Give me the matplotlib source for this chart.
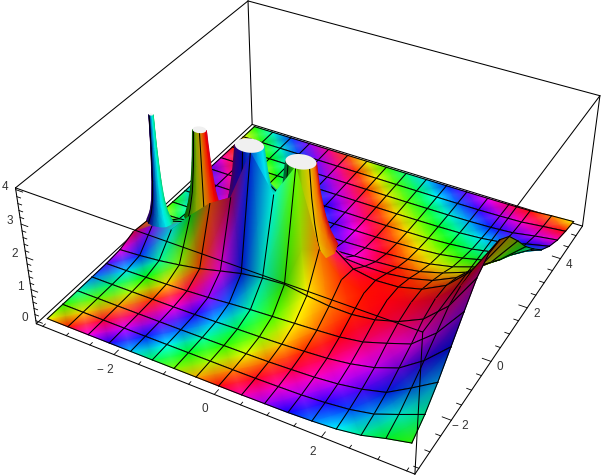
import numpy as np
import matplotlib
matplotlib.use("Agg")
import matplotlib.pyplot as plt
from matplotlib.colors import hsv_to_rgb
from mpl_toolkits.mplot3d import proj3d

# values
x_nodes = [-3.5, -3.06, -2.63, -2.19, -1.75, -1.31, -0.875, -0.44, 0, 0.44, 0.875, 1.31, 1.75, 2.19, 2.63, 3.06, 3.5]
y_nodes = [-3.5, -2.95, -2.41, -1.86, -1.31, -0.77, -0.22, 0.33, 0.875, 1.42, 1.97, 2.52, 3.06, 3.61, 4.16, 4.7, 5.25]

heights = [
    [0, 0, 0, .001, .001, .002, .004, .005, .007, .01, .02, .03, .06, .11, .22, .42, .59],
    [0, 0, .001, .002, .003, .006, .01, .014, .016, .023, .04, .06, .11, .19, .34, .62, .92],
    [0, .002, .003, .005, .008, .012, .02, .03, .04, .055, .085, .12, .19, .31, .5, .92, 1.38],
    [.004, .006, .011, .017, .024, .035, .055, .08, .10, .13, .17, .22, .32, .48, .75, 1.25, 1.94],
    [.012, .02, .037, .06, .09, .13, .19, .24, .28, .32, .36, .41, .52, .75, 1.0, 1.6, 2.5],
    [.05, .095, .16, .26, .38, .55, .71, .81, .86, .75, .67, .66, .75, .96, 1.3, 1.95, 3.03],
    [.22, .63, .74, 1.43, 2.04, 2.44, 4.0, 2.96, 4.0, 1.75, 1.05, .87, .9, 1.07, 1.45, 2.08, 3.3],
    [.17, .40, .60, .96, 1.53, 1.88, 2.8, 2.36, 2.78, 1.45, .95, .83, .87, 1.05, 1.42, 2.1, 3.27],
    [.04, .07, .13, .22, .33, .46, .58, .65, .68, .64, .60, .61, .70, .88, 1.22, 1.85, 2.95],
    [.01, .017, .03, .045, .07, .10, .15, .19, .23, .27, .32, .37, .48, .68, .95, 1.5, 2.4],
    [.003, .005, .009, .014, .02, .03, .045, .065, .08, .11, .15, .2, .29, .44, .68, 1.15, 1.8],
    [0, .001, .002, .004, .006, .01, .017, .027, .033, .046, .075, .11, .17, .29, .46, .85, 1.3],
    [0, 0, .001, .002, .003, .005, .008, .012, .014, .02, .035, .05, .095, .165, .3, .56, .85],
    [0, 0, 0, 0, .001, .002, .003, .005, .006, .009, .017, .028, .05, .1, .19, .38, .54],
    [0, 0, 0, 0, 0, .001, .001, .002, .003, .004, .008, .013, .027, .05, .1, .22, .32],
    [0, 0, 0, 0, 0, 0, 0, .001, .001, .002, .004, .007, .014, .03, .055, .13, .2],
    [0, 0, 0, 0, 0, 0, 0, 0, 0, .001, .002, .003, .007, .015, .03, .08, .11],
]
hues = [
    [.17, .01, .84, .68, .53, .39, .25, .11, .99, .88, .77, .67, .58, .50, .43, .36, .30],
    [.31, .14, .97, .81, .65, .50, .35, .22, .09, .98, .87, .78, .69, .62, .55, .48, .43],
    [.45, .27, .10, .93, .76, .60, .45, .31, .18, .06, .96, .87, .79, .72, .65, .60, .55],
    [.59, .40, .21, .03, .86, .69, .53, .38, .25, .13, .02, .94, .86, .80, .75, .70, .66],
    [.72, .52, .33, .14, .95, .77, .60, .44, .29, .16, .07, .99, .93, .88, .84, .80, .77],
    [.85, .64, .44, .24, .04, .84, .65, .47, .30, .16, .08, .02, .98, .95, .92, .90, .88],
    [.95, .76, .50, .35, .06, .92, .64, .48, .27, .08, .03, .01, .99, .98, .97, .97, .96],
    [.07, .28, .51, .69, .94, .11, .35, .52, .72, .90, .96, .99, .01, .03, .04, .05, .06],
    [.18, .39, .59, .79, .98, .17, .36, .54, .70, .83, .92, .99, .03, .07, .10, .12, .14],
    [.31, .50, .69, .88, .07, .24, .41, .57, .72, .84, .94, .02, .08, .13, .18, .21, .24],
    [.44, .63, .81, .99, .16, .33, .48, .63, .77, .89, .99, .08, .15, .21, .27, .32, .36],
    [.58, .76, .93, .10, .26, .42, .57, .71, .84, .96, .06, .15, .23, .31, .37, .43, .48],
    [.71, .88, .05, .22, .37, .52, .67, .80, .93, .04, .15, .24, .33, .41, .48, .54, .60],
    [.86, .02, .19, .34, .50, .64, .78, .91, .03, .15, .25, .35, .44, .52, .60, .67, .73],
    [.01, .17, .33, .48, .63, .77, .90, .03, .15, .27, .37, .47, .56, .65, .73, .80, .87],
    [.16, .32, .47, .62, .76, .90, .03, .16, .28, .39, .50, .60, .70, .78, .87, .94, .01],
    [.32, .48, .63, .77, .91, .05, .18, .30, .42, .53, .64, .74, .84, .93, .01, .09, .17],
]

# the four spikes, back to front along x
spike_x = [-3, -2, -1, 0]
spike_levels = [[4, 3, 2, 1.4, 1, .7], [4, 3, 2.2, 1.7, 1.3], [4, 3.2, 2.5, 2, 1.6], [4, 3.2, 2.5, 2, 1.6]]
spike_radii = [[.04, .055, .085, .12, .17, .25], [.125, .17, .23, .3, .38], [.26, .32, .4, .5, .62], [.27, .33, .42, .52, .65]]
spike_angles = [-152, -122, -92, -62, -32, -2, 28]
spike_hues = [
    [.75, .68, .60, .54, .50, .46, .43],
    [.33, .27, .20, .12, .05, .00, .97],
    [.78, .72, .66, .60, .55, .51, .48],
    [.44, .37, .29, .20, .14, .07, .98],
]
spike_shade = [.35, .5, .65, .8, .92, .95, .8]
spike_lines = [[1], [1, 3], [2], [1, 4]]

x_ticks = [-2, 0, 2]
y_ticks = [-2, 0, 2, 4]
z_ticks = [0, 1, 2, 3, 4]

xb = (-3.64, 3.64)
yb = (-3.675, 5.425)
zb = (-0.1, 4.05)
view = (36.32, -61.09, 0.453, 0.993, 0.397)

# box corners as they sit in the reference, used to place the view
corner_px = np.array([[37, 325], [417, 476], [582, 223], [252, 124], [15, 187], [421, 330], [600, 100], [248, 0]], float)
cx = np.array([xb[0], xb[1], xb[1], xb[0]] * 2)
cy = np.array([yb[0], yb[0], yb[1], yb[1]] * 2)
cz = np.array([zb[0]] * 4 + [zb[1]] * 4)

fig = plt.figure(figsize=(6.01, 4.76), dpi=100)
ax3 = fig.add_axes([0, 0, 1, 1], projection="3d")
ax3.set_axis_off()
ax3.set_xlim(*xb, view_margin=0)
ax3.set_ylim(*yb, view_margin=0)
ax3.set_zlim(*zb, view_margin=0)
ax3.view_init(elev=view[0], azim=view[1])
ax3.set_proj_type("persp", focal_length=view[2])
ax3.set_box_aspect((1, view[3], view[4]))


def uv(x, y, z):
    u, v, _ = proj3d.proj_transform(np.asarray(x, float), np.asarray(y, float), np.asarray(z, float), ax3.get_proj())
    return np.asarray(u), np.asarray(v)


u0, v0 = uv(cx, cy, cz)
du, dv = u0 - u0.mean(), v0 - v0.mean()
pxs, pys = corner_px[:, 0], corner_px[:, 1]
S = ((du * (pxs - pxs.mean())) - (dv * (pys - pys.mean()))).sum() / (du ** 2 + dv ** 2).sum()
TX, TY = pxs.mean() - S * u0.mean(), pys.mean() + S * v0.mean()


def P(x, y, z):
    u, v = uv(x, y, z)
    return S * u + TX, TY - S * v


ax = fig.add_axes([0, 0, 1, 1])
ax.set_axis_off()
ax.set_xlim(0, 601)
ax.set_ylim(476, 0)
ax.autoscale(False)

X, Y = np.meshgrid(x_nodes, y_nodes)
Z = np.array(heights, float)
H = np.array(hues, float)

# shade from the slope of the read heights, like the light on the original
dzy, dzx = np.gradient(Z, y_nodes, x_nodes)
nx, ny = -0.7 * dzx, -0.55 * dzy
nn = np.sqrt(nx ** 2 + ny ** 2 + 1)
dot = (0.45 * nx - 0.1 * ny + 0.89) / nn
V = np.clip(0.5 + 0.6 * dot, 0.3, 1)
RGB = hsv_to_rgb(np.dstack([H, np.ones_like(H), V]))

LC = "black"
LW = 0.75
order = 2


def edge(a, b, zo):
    i = [a, b]
    px, py = P(cx[i], cy[i], cz[i])
    ax.plot(px, py, color=LC, lw=LW, zorder=zo, solid_capstyle="round")


# back box edges
for a, b in [(3, 2), (0, 3), (3, 7), (0, 1), (1, 2)]:
    edge(a, b, 1)


def draw_spikes():
    global order
    for i in range(4):
        lv = np.array(spike_levels[i])[:, None]
        rr = np.array(spike_radii[i])[:, None]
        th = np.radians(spike_angles)[None, :]
        sx = spike_x[i] + rr * np.cos(th)
        sy = rr * np.sin(th)
        sz = lv * np.ones_like(th)
        px, py = P(sx.ravel(), sy.ravel(), sz.ravel())
        px, py = px.reshape(sx.shape), py.reshape(sx.shape)
        hh = np.array(spike_hues[i])[None, :] * np.ones_like(sx)
        vv = np.array(spike_shade)[None, :] * np.ones_like(sx)
        col = hsv_to_rgb(np.dstack([hh, np.ones_like(hh), vv]))
        ax.pcolormesh(px, py, col, shading="gouraud", zorder=order)
        order += 1
        for j in spike_lines[i]:
            ax.plot(px[:, j], py[:, j], color=LC, lw=LW, zorder=order)
        order += 1


# surface, one strip of cells at a time from the back row to the front
n = len(y_nodes)
for j in range(n - 2, -1, -1):
    if y_nodes[j] == -0.77:
        draw_spikes()
    sx = X[j:j + 2]
    px, py = P(sx.ravel(), Y[j:j + 2].ravel(), Z[j:j + 2].ravel())
    px, py = px.reshape(sx.shape), py.reshape(sx.shape)
    ax.pcolormesh(px, py, RGB[j:j + 2], shading="gouraud", zorder=order)
    order += 1
    ax.plot(px, py, color=LC, lw=LW, zorder=order)
    # the row through the poles leaves no line across the wall
    if y_nodes[j + 1] != -0.22:
        ax.plot(px[1], py[1], color=LC, lw=LW, zorder=order)
    if y_nodes[j] != -0.22:
        ax.plot(px[0], py[0], color=LC, lw=LW, zorder=order)
    order += 1

# clipped tops of the spikes
for i in range(4):
    r = spike_radii[i][0]
    t = np.linspace(0, 2 * np.pi, 40)
    cap_x, cap_y = P(spike_x[i] + r * np.cos(t), r * np.sin(t), 4 * np.ones_like(t))
    ax.fill(cap_x, cap_y, facecolor="#f0f0f0", edgecolor="none", zorder=order)

# front box edges and ticks
for a, b in [(4, 5), (5, 6), (4, 7), (7, 6), (1, 5), (0, 4), (2, 6)]:
    edge(a, b, order + 1)


def tick(x, y, z, dx, dy, dz, major):
    f = 1.0 if major else 0.55
    px, py = P([x, x + f * dx], [y, y + f * dy], [z, z + f * dz])
    ax.plot(px, py, color=LC, lw=0.6, zorder=order + 1)


for t in np.arange(-3.5, 3.51, 0.5):
    tick(t, yb[0], zb[0], 0, 0.16, 0, t in x_ticks)
for t in np.arange(-3.5, 5.01, 0.5):
    tick(xb[1], t, zb[0], -0.16, 0, 0, t in y_ticks)
for t in np.arange(0, 4.01, 0.2):
    tick(xb[0], yb[0], t, 0.14, 0, 0, abs(t - round(t)) < 1e-6)

txt = dict(fontsize=8.5, family="Liberation Sans", color="#333333", ha="center", va="center", zorder=order + 2)
for t in x_ticks:
    px, py = P(t, yb[0], zb[0])
    ax.text(px - 9, py + 15, str(t).replace("-", "\u2212 "), **txt)
for t in y_ticks:
    px, py = P(xb[1], t, zb[0])
    ax.text(px + 9, py + 6, str(t).replace("-", "\u2212 "), **txt)
for t in z_ticks:
    px, py = P(xb[0], yb[0], t)
    ax.text(px - 11, py - 3, str(t), **txt)

fig.savefig("out.png", dpi=100)
